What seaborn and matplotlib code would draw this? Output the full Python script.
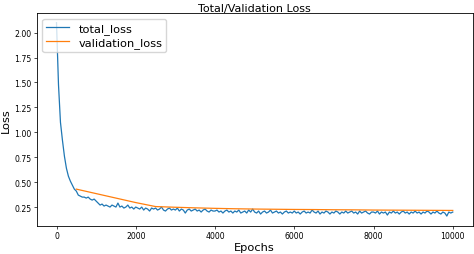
import matplotlib
matplotlib.use('Agg')
import matplotlib.pyplot as plt
import numpy as np
import pandas as pd
import seaborn as sns

TOTAL_EPOCHS = list(range(0, 10001, 50))
TOTAL_LOSS = [
    2.10, 1.48, 1.10, 0.92, 0.76, 0.64, 0.56, 0.51, 0.47, 0.43,
    0.41, 0.37, 0.36, 0.35, 0.35, 0.34, 0.35, 0.33, 0.32, 0.33,
    0.31, 0.29, 0.27, 0.28, 0.26, 0.27, 0.26, 0.25, 0.27, 0.26,
    0.25, 0.29, 0.25, 0.26, 0.24, 0.25, 0.27, 0.24, 0.25, 0.23,
    0.25, 0.24, 0.23, 0.25, 0.22, 0.24, 0.23, 0.21, 0.24, 0.23,
    0.24, 0.22, 0.23, 0.25, 0.22, 0.21, 0.23, 0.24, 0.22, 0.23,
    0.22, 0.24, 0.21, 0.23, 0.22, 0.19, 0.22, 0.23, 0.21, 0.22,
    0.23, 0.21, 0.22, 0.20, 0.22, 0.23, 0.21, 0.20, 0.22, 0.21,
    0.21, 0.22, 0.20, 0.21, 0.19, 0.21, 0.22, 0.20, 0.21, 0.19,
    0.21, 0.20, 0.22, 0.19, 0.20, 0.21, 0.19, 0.22, 0.20, 0.23,
    0.20, 0.19, 0.21, 0.18, 0.20, 0.21, 0.19, 0.20, 0.22, 0.19,
    0.20, 0.21, 0.19, 0.20, 0.18, 0.20, 0.21, 0.19, 0.20, 0.19,
    0.21, 0.19, 0.20, 0.18, 0.20, 0.21, 0.19, 0.20, 0.19, 0.22,
    0.20, 0.19, 0.21, 0.18, 0.20, 0.19, 0.21, 0.20, 0.18, 0.20,
    0.19, 0.21, 0.20, 0.18, 0.20, 0.19, 0.21, 0.19, 0.20, 0.21,
    0.19, 0.20, 0.18, 0.21, 0.19, 0.20, 0.21, 0.19, 0.18, 0.20,
    0.20, 0.19, 0.21, 0.18, 0.20, 0.19, 0.20, 0.17, 0.20, 0.19,
    0.21, 0.19, 0.20, 0.18, 0.20, 0.21, 0.19, 0.20, 0.18, 0.20,
    0.19, 0.21, 0.19, 0.20, 0.18, 0.20, 0.19, 0.21, 0.20, 0.18,
    0.20, 0.19, 0.21, 0.19, 0.18, 0.20, 0.19, 0.16, 0.20, 0.19,
    0.20,
]

# validation loss every 500 epochs
VAL_EPOCHS = list(range(500, 10001, 500))
VAL_LOSS = [
    0.43, 0.385, 0.34, 0.295, 0.255, 0.248, 0.242, 0.237, 0.233, 0.230,
    0.228, 0.226, 0.225, 0.223, 0.222, 0.220, 0.219, 0.218, 0.217, 0.216,
]


def main():
    df_total = pd.DataFrame({'epoch': TOTAL_EPOCHS, 'loss': TOTAL_LOSS})
    df_val = pd.DataFrame({'epoch': VAL_EPOCHS, 'loss': VAL_LOSS})

    fig, ax = plt.subplots(figsize=(4.74, 2.55), dpi=100)
    fig.subplots_adjust(left=0.0774, right=0.997, top=0.945, bottom=0.111)

    sns.lineplot(data=df_total, x='epoch', y='loss', ax=ax, color='tab:blue',
                 linewidth=0.9, label='total_loss')
    sns.lineplot(data=df_val, x='epoch', y='loss', ax=ax, color='tab:orange',
                 linewidth=0.9, label='validation_loss')

    ax.set_title('Total/Validation Loss', fontsize=8, pad=1.5)
    ax.set_xlabel('Epochs', fontsize=8.2, labelpad=2)
    ax.set_ylabel('Loss', fontsize=8.2, labelpad=3)
    ax.tick_params(labelsize=5.6, length=2, width=0.5, pad=1.5)
    for sp in ax.spines.values():
        sp.set_linewidth(0.6)
    ax.legend(loc='upper left', fontsize=8.2, handlelength=2.0,
              borderpad=0.35, labelspacing=0.3, framealpha=0.8)

    fig.savefig('out.png', dpi=100)
    plt.close(fig)


if __name__ == '__main__':
    main()
